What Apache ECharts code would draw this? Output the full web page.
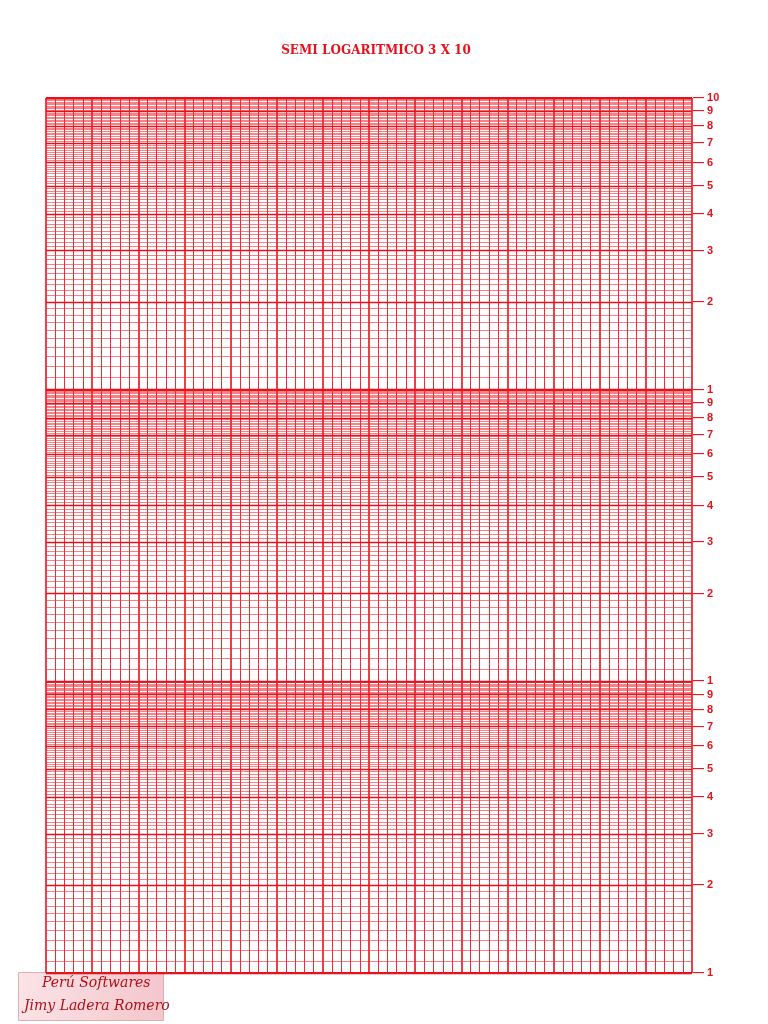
<!DOCTYPE html>
<html><head><meta charset="utf-8">
<script src="https://cdn.jsdelivr.net/npm/echarts@6/dist/echarts.min.js"></script>
<style>html,body{margin:0;padding:0;background:#fff}#c{width:768px;height:1024px}</style>
</head><body><div id="c"></div>
<script>
const title = "SEMI LOGARITMICO 3 X 10";
const decadeBases = [1, 10, 100];
const majorDigits = [1, 2, 3, 4, 5, 6, 7, 8, 9];
const minorSteps = [1,2,3,4,5,6,7,8,9]; // tenths between digits
const xMajorCount = 14;
const xMinorPerMajor = 5;
const credits = ["Perú Softwares", "Jimy Ladera Romero"];

const RED = '#e8101a';
const majorLines = [], minorLines = [];
decadeBases.forEach(b => {
  majorDigits.forEach(d => {
    majorLines.push({yAxis: b*d, label: {formatter: '— ' + d}});
    minorSteps.forEach(t => minorLines.push({yAxis: b*(d + t/10)}));
  });
});
majorLines.push({yAxis: 1000, label: {formatter: '— 10'}});

const chart = echarts.init(document.getElementById('c'), null, {renderer: 'canvas'});
chart.setOption({
  animation: false,
  title: {text: title, left: 371, textAlign: 'center', top: 40,
    textStyle: {color: RED, fontFamily: 'DejaVu Serif', fontWeight: 'bold', fontSize: 12}},
  grid: {left: 46, right: 76, top: 98, bottom: 51},
  xAxis: {type: 'value', min: 0, max: xMajorCount, interval: 1,
    axisLine: {show: false}, axisTick: {show: false}, axisLabel: {show: false},
    splitLine: {show: true, lineStyle: {color: RED, width: 1.6}},
    minorTick: {show: false, splitNumber: xMinorPerMajor},
    minorSplitLine: {show: true, lineStyle: {color: '#f02a35', width: 1}}},
  yAxis: {type: 'log', logBase: 10, min: 1, max: 1000,
    axisLine: {show: false}, axisTick: {show: false}, axisLabel: {show: false},
    splitLine: {show: true, lineStyle: {color: RED, width: 2}}},
  series: [{
    type: 'line', data: [], silent: true,
    markLine: {silent: true, symbol: 'none', animation: false,
      lineStyle: {color: '#f02a35', width: 0.7, type: 'solid', opacity: 0.85},
      label: {show: false}, data: minorLines}
  }, {
    type: 'line', data: [], silent: true,
    markLine: {silent: true, symbol: 'none', animation: false,
      lineStyle: {color: RED, width: 1.4, type: 'solid'},
      label: {show: true, position: 'end', distance: 1, color: RED,
        fontFamily: 'Liberation Sans', fontWeight: 'bold', fontSize: 11},
      data: majorLines}
  }],
  graphic: [
    {type: 'rect', left: 18, top: 972, shape: {width: 145, height: 48},
      style: {fill: new echarts.graphic.LinearGradient(0,0,1,0,[{offset:0,color:'#fbe3e6'},{offset:1,color:'#f3c6cc'}]),
        stroke: '#d9b0b5', lineWidth: 1}},
    {type: 'text', left: 42, top: 976, style: {text: credits[0], fill: '#b0101a',
      font: 'italic 14px "DejaVu Serif"'}},
    {type: 'text', left: 24, top: 999, style: {text: credits[1], fill: '#b0101a',
      font: 'italic 14px "DejaVu Serif"'}}
  ]
});
</script></body></html>
